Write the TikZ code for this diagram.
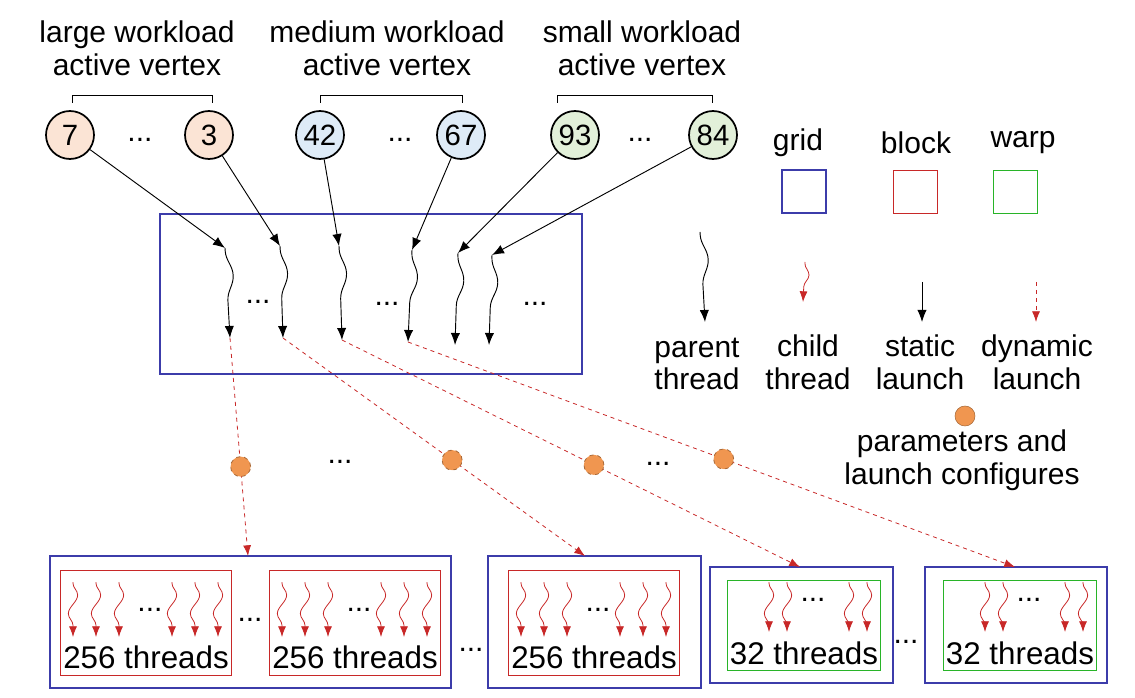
\documentclass[tikz,border=0pt]{standalone}
\usepackage{fontspec}
\setmainfont{Liberation Sans}
\usetikzlibrary{arrows.meta,decorations.pathmorphing}
\definecolor{gridc}{RGB}{60,60,170}
\definecolor{blockc}{RGB}{200,40,40}
\definecolor{warpc}{RGB}{40,180,40}
\definecolor{orc}{RGB}{251,228,213}
\definecolor{blc}{RGB}{222,235,247}
\definecolor{grc}{RGB}{226,240,217}
\definecolor{dotc}{RGB}{240,150,80}
\tikzset{
  lbl/.style={font=\fontsize{22.5}{24.5}\selectfont, align=center},
  vtx/.style={circle, draw, line width=1.3pt, minimum size=36pt, inner sep=0pt, font=\fontsize{22}{24}\selectfont},
  pthread/.style={line width=0.7pt, -{Latex[length=9pt,width=7pt]}, decorate, decoration={snake, segment length=60pt, amplitude=5pt, pre length=2pt, post length=5pt}},
  cthread/.style={blockc, line width=0.6pt, -{Latex[length=8pt,width=6pt]}, decorate, decoration={snake, segment length=28pt, amplitude=3.5pt, pre length=1pt, post length=4pt}},
  stat/.style={line width=0.7pt, -{Latex[length=9pt,width=7pt]}},
  dyn/.style={blockc, dashed, line width=0.6pt, -{Latex[length=8pt,width=6pt]}},
  param/.style={circle, fill=dotc, draw=dotc!70!black, minimum size=15pt, inner sep=0pt},
  gridbox/.style={draw=gridc, line width=0.8pt},
  blockbox/.style={draw=blockc},
  warpbox/.style={draw=warpc},
}
\begin{document}
\begin{tikzpicture}[x=0.75pt,y=0.75pt,yscale=-1,xscale=1]
\useasboundingbox (0,0) rectangle (1135,698);

% headers
\node[lbl] (hl) at (137,48) {large workload\\active vertex};
\node[lbl] (hm) at (387,48) {medium workload\\active vertex};
\node[lbl] (hs) at (642,48) {small workload\\active vertex};
\draw (72,103) -- (72,95) -- (212,95) -- (212,103);
\draw (320,103) -- (320,95) -- (462,95) -- (462,103);
\draw (557,103) -- (557,95) -- (712,95) -- (712,103);

% active vertices
\node[vtx, fill=orc] (v1) at (70,135) {7};
\node[vtx, fill=orc] (v2) at (209,135) {3};
\node[vtx, fill=blc] (v3) at (320,135) {42};
\node[vtx, fill=blc] (v4) at (461,135) {67};
\node[vtx, fill=grc] (v5) at (575,135) {93};
\node[vtx, fill=grc] (v6) at (713,135) {84};
\node[lbl] at (140,140) {...};
\node[lbl] at (400,140) {...};
\node[lbl] at (640,140) {...};

% parent grid
\draw[gridbox] (160,214) rectangle (582,374);
\coordinate (p1t) at (225,248); \coordinate (p1b) at (230,338);
\coordinate (p2t) at (280,246); \coordinate (p2b) at (283,338);
\coordinate (p3t) at (339,246); \coordinate (p3b) at (342,340);
\coordinate (p4t) at (412,250); \coordinate (p4b) at (408,342);
\coordinate (p5t) at (458,253); \coordinate (p5b) at (455,345);
\coordinate (p6t) at (492,255); \coordinate (p6b) at (489,345);
\foreach \i in {1,...,6}
  \draw[pthread] (p\i t) -- (p\i b);
\foreach \i in {1,...,6}
  \draw[stat] (v\i) -- (p\i t);
\node[lbl] at (258,302) {...};
\node[lbl] at (387,304) {...};
\node[lbl] at (535,304) {...};

% child grids
\draw[gridbox] (50,556) rectangle (451,688);
\draw[gridbox] (488,556) rectangle (701,688);
\draw[gridbox] (710,567) rectangle (893,683);
\draw[gridbox] (925,567) rectangle (1107,683);
\coordinate (g1) at (248,556);
\coordinate (g2) at (585,556);
\coordinate (g3) at (800,567);
\coordinate (g4) at (1015,567);
\draw[dyn] (p1b) -- node[param, pos=0.59] (k1) {} (g1);
\draw[dyn] (p2b) -- node[param, pos=0.56] (k2) {} (g2);
\draw[dyn] (p3b) -- node[param, pos=0.55] (k3) {} (g3);
\draw[dyn] (p4b) -- node[param, pos=0.52] (k4) {} (g4);
\node[lbl] at (340,462) {...};
\node[lbl] at (658,464) {...};

% blocks
\foreach \bx in {60,269,508} {
  \draw[blockbox] (\bx,570) rectangle (\bx+171,675);
  \foreach \dx in {13,36,59,112,135,158}
    \draw[cthread] (\bx+\dx,582) -- (\bx+\dx,637);
  \node[lbl] at (\bx+90,610) {...};
  \node[lbl, font=\fontsize{23.5}{25}\selectfont] at (\bx+86,657) {256 threads};
}
% warps
\foreach \wx in {727,943} {
  \draw[warpbox] (\wx,580) rectangle (\wx+153,670);
  \foreach \dx in {42,60,122,140}
    \draw[cthread] (\wx+\dx,582) -- (\wx+\dx,632);
  \node[lbl] at (\wx+86,600) {...};
  \node[lbl, font=\fontsize{23.5}{25}\selectfont] at (\wx+77,653) {32 threads};
}
\node[lbl] at (250,620) {...};
\node[lbl] at (471,650) {...};
\node[lbl] at (906,642) {...};

% legend
\node[lbl] (lg) at (798,143) {grid};
\node[lbl] (lb) at (916,143) {block};
\node[lbl] (lw) at (1023,143) {warp};
\draw[gridbox] (782,170) rectangle (826,213);
\draw[blockbox] (893,170) rectangle (937,213);
\draw[warpbox] (993,170) rectangle (1037,213);
\coordinate (lpt) at (700,232); \coordinate (lpb) at (705,322);
\draw[pthread] (lpt) -- (lpb);
\coordinate (lct) at (805,262); \coordinate (lcb) at (803,302);
\draw[cthread] (lct) -- (lcb);
\coordinate (lst) at (922,282); \coordinate (lsb) at (922,322);
\draw[stat] (lst) -- (lsb);
\coordinate (ldt) at (1036,282); \coordinate (ldb) at (1036,322);
\draw[dyn] (ldt) -- (ldb);
\node[lbl] at (697,364) {parent\\thread};
\node[lbl] at (808,362) {child\\thread};
\node[lbl] at (920,362) {static\\launch};
\node[lbl] at (1037,362) {dynamic\\launch};
\node[param] (lk) at (965,416) {};
\node[lbl] at (962,460) {parameters and\\launch configures};
\end{tikzpicture}
\end{document}
